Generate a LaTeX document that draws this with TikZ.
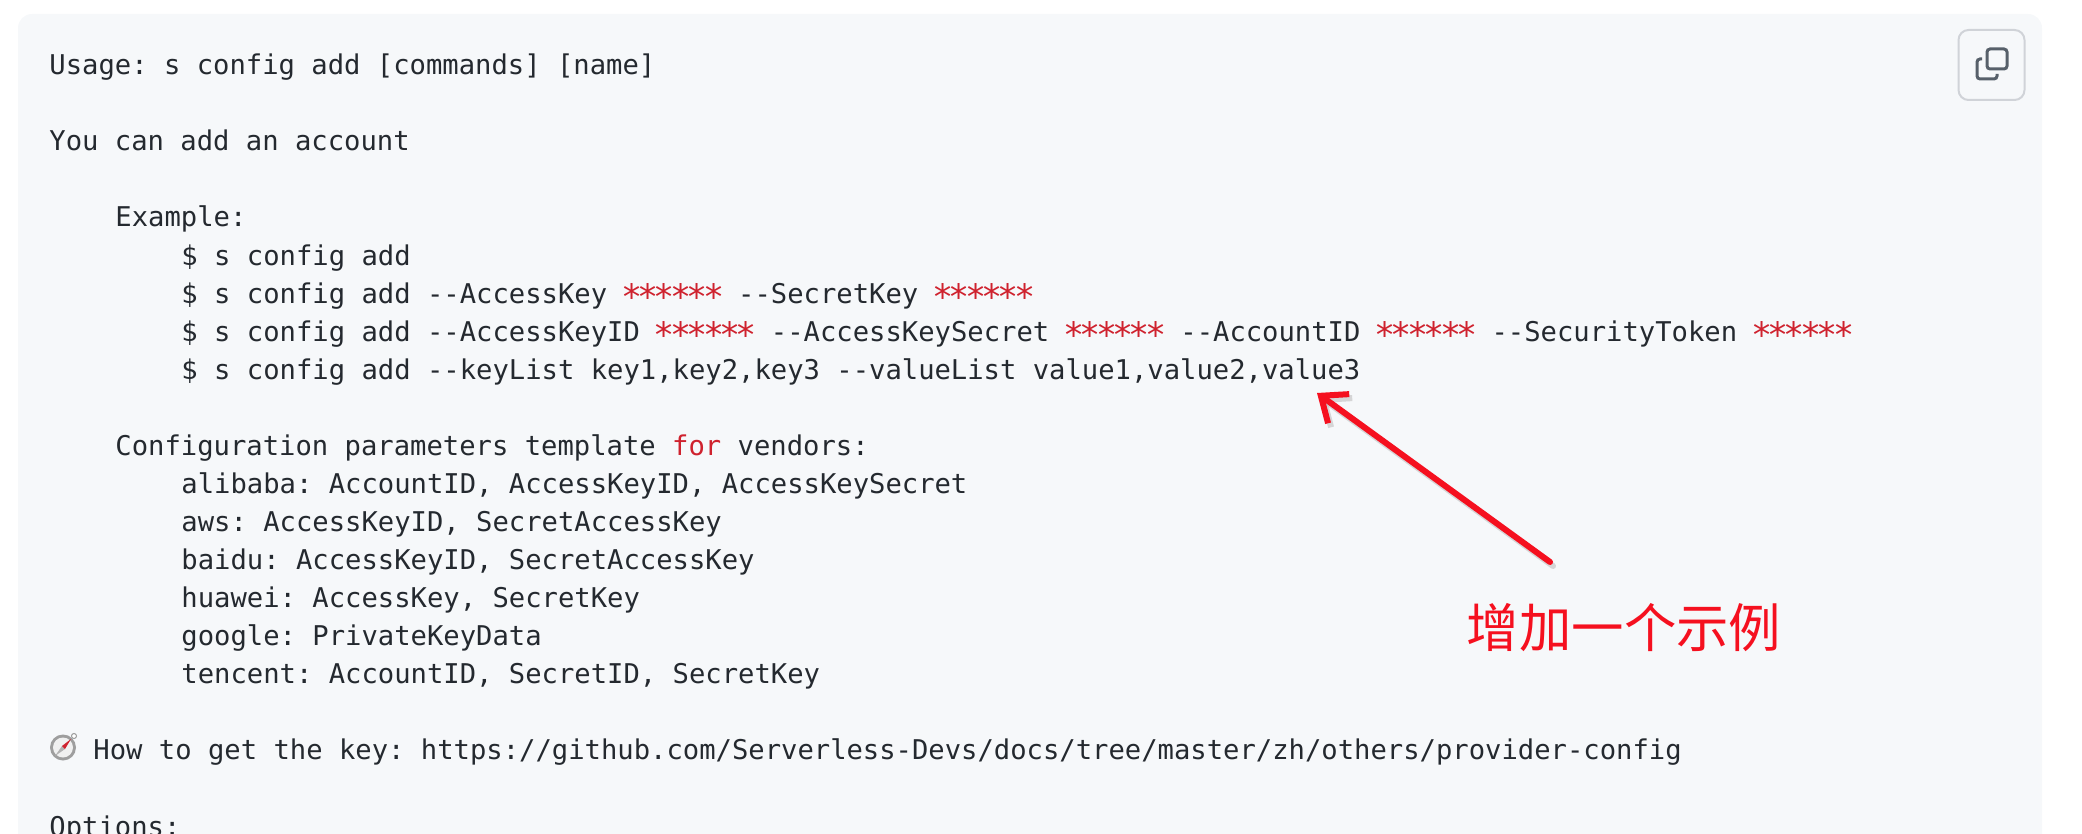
\documentclass[tikz,border=0pt]{standalone}
\usepackage{fontspec}
\setmonofont{DejaVu Sans Mono}
\newfontfamily\cjk{Noto Sans CJK SC}
\usetikzlibrary{arrows.meta}
\definecolor{panelbg}{HTML}{F6F8FA}
\definecolor{codetext}{HTML}{24292F}
\definecolor{keyred}{HTML}{CF222E}
\definecolor{notered}{HTML}{F5101F}
\definecolor{btnline}{HTML}{D0D3D8}
\definecolor{iconcol}{HTML}{57606A}
\newcommand{\onestar}{\makebox[8.19pt][c]{\raisebox{-3.2pt}{\fontsize{17.5}{18}\selectfont *}}}
\newcommand{\stars}{\textcolor{keyred}{\onestar\onestar\onestar\onestar\onestar\onestar}}
\tikzset{
codeline/.style={anchor=base west, inner sep=0pt, text=codetext, font=\ttfamily\fontsize{13.6}{16}\selectfont\frenchspacing},
notearrow/.style={line width=3pt, line cap=round, line join=round, -{Straight Barb[length=11pt,width=18pt,line width=3pt]}}
}
\begin{document}
\begin{tikzpicture}[x=0.5pt, y=-0.5pt]
\clip (0,0) rectangle (2082,834);
% panel
\fill[panelbg, rounded corners=7pt] (18,14) rectangle (2042,900);
% copy button
\node[draw=btnline, line width=1pt, fill=panelbg, rounded corners=5pt, minimum width=33pt, minimum height=35pt, inner sep=0pt] (copybtn) at (1991.5,65) {};
\draw[iconcol, line width=1.5pt, rounded corners=1.5pt] (1987,49) rectangle (2007,69);
\draw[iconcol, line width=1.5pt, rounded corners=1.5pt] (1982,59) -- (1977,59) -- (1977,79) -- (1997,79) -- (1997,74);
% text lines
\node[codeline] (usage) at (49,75) {Usage: s config add [commands] [name]};
\node[codeline] (intro) at (49,151) {You can add an account};
\node[codeline] (example) at (115,227) {Example:};
\node[codeline] (cmda) at (181,265) {\$ s config add};
\node[codeline] (cmdb) at (181,303) {\$ s config add --AccessKey \stars{} --SecretKey \stars};
\node[codeline] (cmdc) at (181,341) {\$ s config add --AccessKeyID \stars{} --AccessKeySecret \stars{} --AccountID \stars{} --SecurityToken \stars};
\node[codeline] (cmdd) at (181,379) {\$ s config add --keyList key1,key2,key3 --valueList value1,value2,value3};
\node[codeline] (vendors) at (115,455) {Configuration parameters template \textcolor{keyred}{for} vendors:};
\node[codeline] (alibaba) at (181,493) {alibaba: AccountID, AccessKeyID, AccessKeySecret};
\node[codeline] (aws) at (181,531) {aws: AccessKeyID, SecretAccessKey};
\node[codeline] (baidu) at (181,569) {baidu: AccessKeyID, SecretAccessKey};
\node[codeline] (huawei) at (181,607) {huawei: AccessKey, SecretKey};
\node[codeline] (google) at (181,645) {google: PrivateKeyData};
\node[codeline] (tencent) at (181,683) {tencent: AccountID, SecretID, SecretKey};
\node[codeline] (howto) at (93,759) {How to get the key: https://github.com/Serverless-Devs/docs/tree/master/zh/others/provider-config};
\node[codeline] (options) at (49,836) {Options:};
% compass
\fill[black!38] (63,747.5) circle (13);
\fill[black!6] (63,747.5) circle (10);
\draw[black!40, fill=white, line width=.5pt] (74,736) circle (2.5);
\fill[black!30] (55,756) -- (62,746) -- (65,749) -- cycle;
\fill[keyred] (71,739) -- (62,746) -- (65,749) -- cycle;
% note
\coordinate (tail) at (1550,562);
\coordinate (tip) at (1317,393);
\draw[notearrow, black!25, opacity=.6] ([shift={(3,4)}]tail) -- ([shift={(3,4)}]tip);
\draw[notearrow, notered] (tail) -- (tip);
\node[inner sep=0pt, text=notered, font=\cjk\fontsize{26.2}{30}\selectfont] (note) at (1624,628) {增加一个示例};
\end{tikzpicture}
\end{document}
